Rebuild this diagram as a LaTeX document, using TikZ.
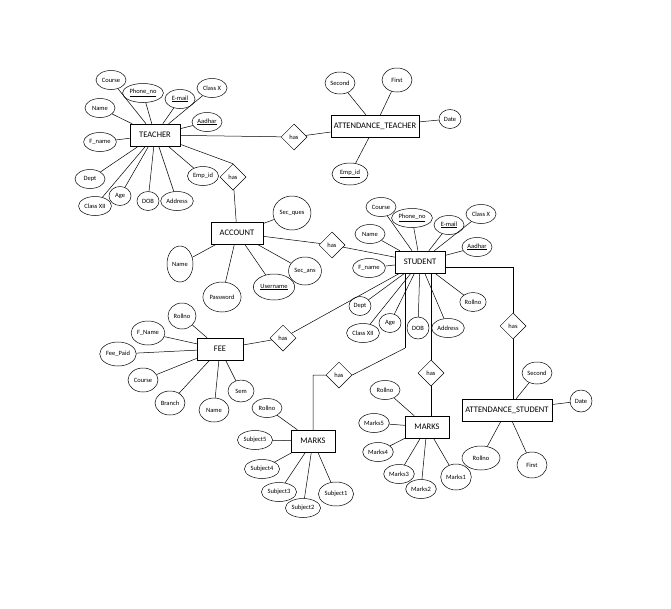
\documentclass[tikz,border=0pt]{standalone}
\usepackage{fontspec}
\setmainfont{Carlito}
\usetikzlibrary{shapes.geometric}

\tikzset{
  ent/.style={draw,rectangle,minimum height=22pt,inner sep=3pt,font=\fontsize{8.5}{9}\selectfont},
  att/.style={draw,ellipse,inner sep=1pt,minimum width=30pt,minimum height=19pt,font=\fontsize{6.5}{7}\selectfont},
  rel/.style={draw,diamond,aspect=1,inner sep=1pt,minimum size=26pt,font=\fontsize{6.5}{7}\selectfont},
}

\begin{document}
\begin{tikzpicture}[x=1pt,y=-1pt,line width=0.5pt]
\useasboundingbox (0,0) rectangle (671,608);

% entities
\node[ent,minimum width=50pt] (teacher) at (155,135) {TEACHER};
\node[ent,minimum width=88pt] (attT) at (375,126) {ATTENDANCE\_TEACHER};
\node[ent,minimum width=52pt] (account) at (237,233) {ACCOUNT};
\node[ent,minimum width=50pt] (student) at (420,262) {STUDENT};
\node[ent,minimum width=46pt] (fee) at (220,349) {FEE};
\node[ent,minimum width=44pt] (marksA) at (313,441) {MARKS};
\node[ent,minimum width=44pt] (marksB) at (427,427) {MARKS};
\node[ent,minimum width=90pt] (attS) at (507,410) {ATTENDANCE\_STUDENT};

% relations
\node[rel] (hasTA) at (294,137) {has};
\node[rel] (hasTC) at (233,177) {has};
\node[rel] (hasCS) at (332,245) {has};
\node[rel] (hasFS) at (283,338) {has};
\node[rel] (hasMA) at (339,375) {has};
\node[rel] (hasMB) at (431,373) {has};
\node[rel] (hasAS) at (513,326) {has};

% teacher attributes
\node[att] (tCourse) at (111,80) {Course};
\node[att] (tPhone) at (143,93) {\underline{Phone\_no}};
\node[att] (tMail) at (180,99) {\underline{E-mail}};
\node[att] (tClassX) at (212,88) {Class X};
\node[att] (tAadhar) at (207,122) {\underline{Aadhar}};
\node[att] (tName) at (100,108) {Name};
\node[att] (tFname) at (100,142) {F\_name};
\node[att] (tDept) at (90,179) {Dept};
\node[att] (tClassXII) at (95,206) {Class XII};
\node[att,minimum width=22pt] (tAge) at (120,196) {Age};
\node[att,minimum width=22pt] (tDOB) at (148,201) {DOB};
\node[att] (tAddr) at (177,201) {Address};
\node[att] (tEmp) at (203,176) {Emp\_id};
\foreach \a in {tCourse,tPhone,tMail,tClassX,tAadhar,tName,tFname,tDept,tClassXII,tAge,tDOB,tAddr,tEmp}
  \draw (teacher) -- (\a);

% attendance teacher attributes
\node[att,minimum height=22pt] (atSecond) at (340,83) {Second};
\node[att,minimum height=24pt] (atFirst) at (397,80) {First};
\node[att,minimum width=22pt] (atDate) at (450,119) {Date};
\node[att,minimum width=36pt,minimum height=22pt] (atEmp) at (350,174) {\underline{Emp\_id}};
\foreach \a in {atSecond,atFirst,atDate,atEmp}
  \draw (attT) -- (\a);

% account attributes
\node[att,minimum width=32pt,minimum height=34pt] (cSecq) at (292,213) {Sec\_ques};
\node[att,minimum width=26pt,minimum height=36pt] (cName) at (180,264) {Name};
\node[att,minimum height=30pt] (cPass) at (222,297) {Password};
\node[att,minimum height=26pt] (cUser) at (274,287) {\underline{Username}};
\node[att,minimum height=28pt] (cSecans) at (305,271) {Sec\_ans};
\foreach \a in {cSecq,cName,cPass,cUser,cSecans}
  \draw (account) -- (\a);

% student attributes
\node[att] (sCourse) at (381,207) {Course};
\node[att] (sPhone) at (412,218) {\underline{Phone\_no}};
\node[att] (sMail) at (449,225) {\underline{E-mail}};
\node[att] (sClassX) at (481,214) {Class X};
\node[att] (sAadhar) at (477,247) {\underline{Aadhar}};
\node[att] (sName) at (370,234) {Name};
\node[att] (sFname) at (369,268) {F\_name};
\node[att,minimum width=26pt] (sRoll) at (473,302) {Rollno};
\node[att,minimum width=22pt] (sDept) at (360,306) {Dept};
\node[att,minimum width=22pt] (sAge) at (390,323) {Age};
\node[att] (sClassXII) at (363,333) {Class XII};
\node[att,minimum width=22pt,minimum height=22pt] (sDOB) at (418,328) {DOB};
\node[att] (sAddr) at (448,328) {Address};
\foreach \a in {sCourse,sPhone,sMail,sClassX,sAadhar,sName,sFname,sRoll,sDept,sAge,sClassXII,sDOB,sAddr}
  \draw (student) -- (\a);

% fee attributes
\node[att,minimum width=28pt,minimum height=26pt] (fRoll) at (182,316) {Rollno};
\node[att,minimum height=24pt] (fFname) at (148,333) {F\_Name};
\node[att,minimum height=24pt] (fPaid) at (118,354) {Fee\_Paid};
\node[att,minimum height=24pt] (fCourse) at (143,380) {Course};
\node[att,minimum height=24pt] (fBranch) at (170,403) {Branch};
\node[att,minimum height=24pt] (fName) at (214,410) {Name};
\node[att,minimum width=26pt,minimum height=22pt] (fSem) at (241,391) {Sem};
\foreach \a in {fRoll,fFname,fPaid,fCourse,fBranch,fName,fSem}
  \draw (fee) -- (\a);

% first marks attributes
\node[att] (maRoll) at (267,408) {Rollno};
\node[att] (maS5) at (255,440) {Subject5};
\node[att] (maS4) at (262,469) {Subject4};
\node[att] (maS3) at (279,492) {Subject3};
\node[att] (maS2) at (303,508) {Subject2};
\node[att,minimum width=26pt,minimum height=24pt] (maS1) at (336,494) {Subject1};
\foreach \a in {maRoll,maS5,maS4,maS3,maS2,maS1}
  \draw (marksA) -- (\a);

% second marks attributes
\node[att] (mbRoll) at (385,390) {Rollno};
\node[att] (mbM5) at (374,423) {Marks5};
\node[att] (mbM4) at (378,452) {Marks4};
\node[att] (mbM3) at (399,474) {Marks3};
\node[att] (mbM2) at (421,489) {Marks2};
\node[att,minimum width=26pt,minimum height=26pt] (mbM1) at (456,477) {Marks1};
\foreach \a in {mbRoll,mbM5,mbM4,mbM3,mbM2,mbM1}
  \draw (marksB) -- (\a);

% attendance student attributes
\node[att,minimum height=22pt] (asSecond) at (537,373) {Second};
\node[att,minimum width=22pt,minimum height=22pt] (asDate) at (581,401) {Date};
\node[att,minimum width=38pt,minimum height=24pt] (asRoll) at (481,458) {Rollno};
\node[att,minimum width=30pt,minimum height=26pt] (asFirst) at (532,465) {First};
\foreach \a in {asSecond,asDate,asRoll,asFirst}
  \draw (attS) -- (\a);

% relationships
\draw (teacher) -- (hasTA) -- (attT);
\draw (teacher) -- (hasTC.north) (hasTC) -- (account);
\draw (account) -- (hasCS) -- (student);
\draw (fee) -- (hasFS) -- (student);
\draw (student.south west) ++(10,0) coordinate (sA) -- ++(0,75) coordinate (sB);
\draw (sB) -- (hasMA.east) (hasMA.west) -| (marksA.north);
\draw (hasMB.north) -- (hasMB.north |- student.south);
\draw (hasMB) -- (hasMB |- marksB.north);
\draw (student.east |- 0,267) -| (hasAS.north) (hasAS) -- (hasAS |- attS.north);
\end{tikzpicture}
\end{document}
